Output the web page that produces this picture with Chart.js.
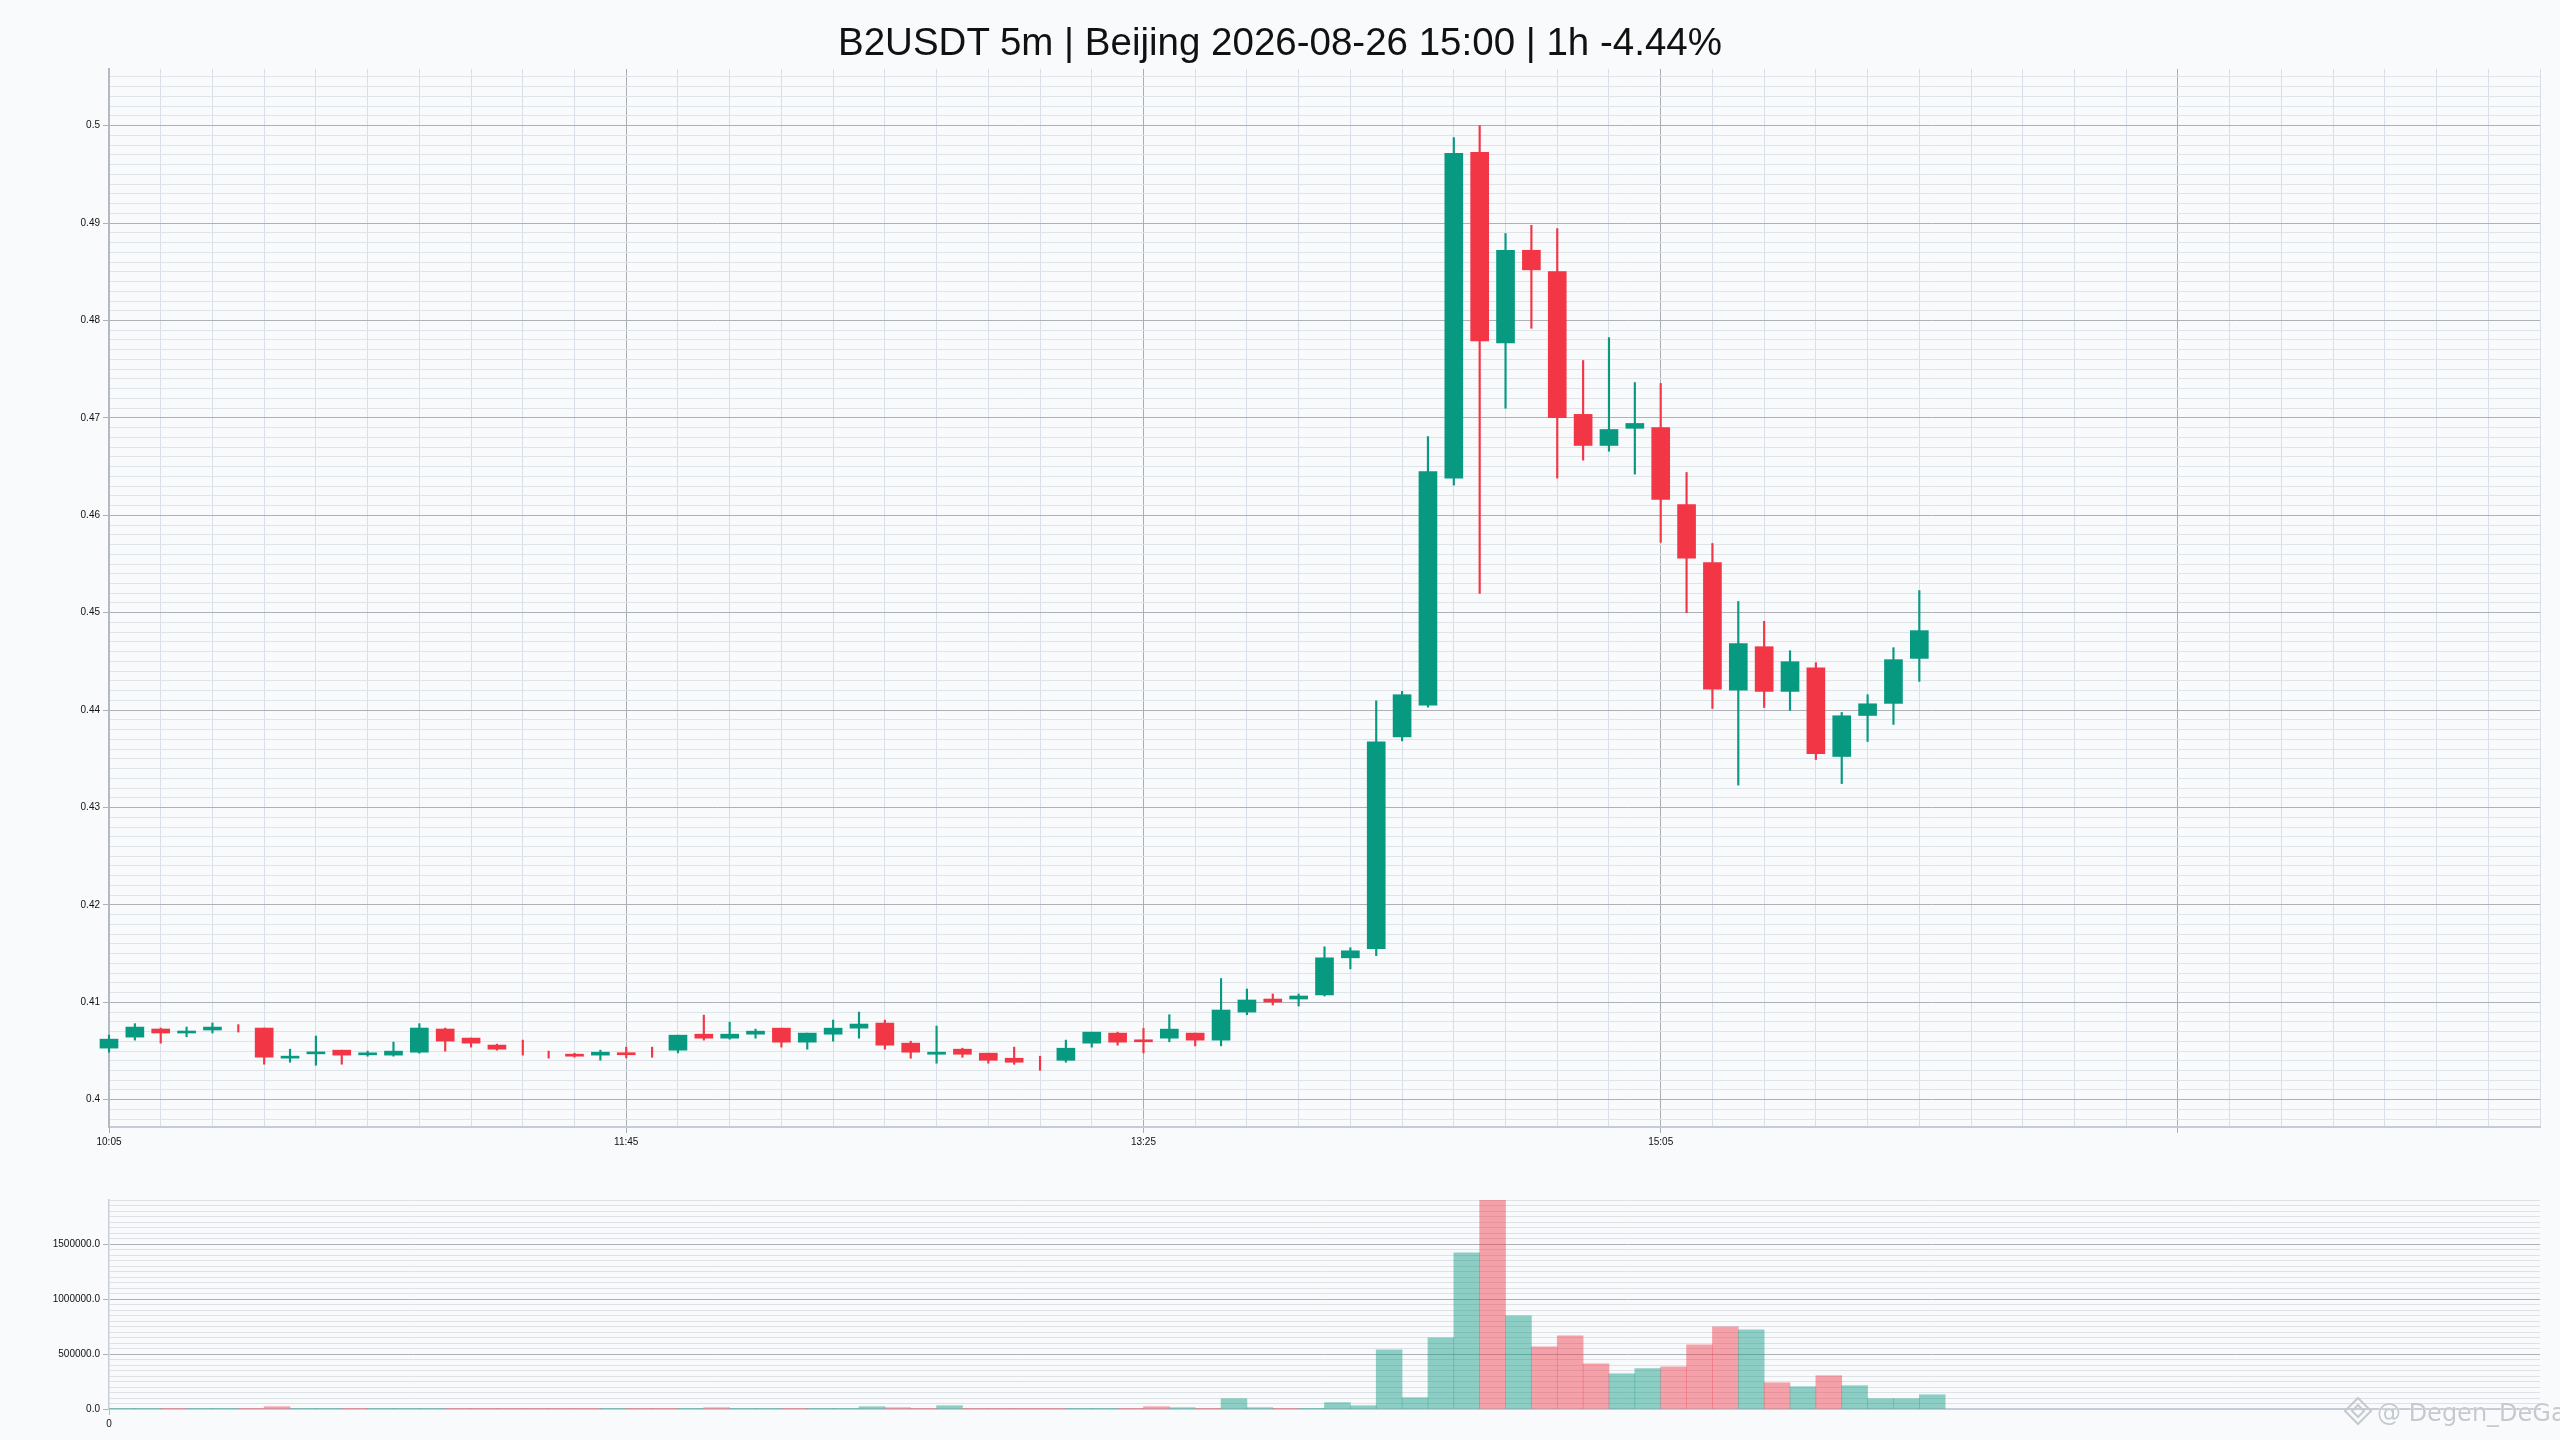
<!DOCTYPE html>
<html lang="en">
<head>
<meta charset="UTF-8">
<title>B2USDT 5m</title>
<script src="https://cdn.jsdelivr.net/npm/chart.js"></script>
<style>
html,body{margin:0;padding:0;background:#f8fafc;overflow:hidden}
body{width:2560px;height:1440px;position:relative;font-family:"Liberation Sans",Arial,sans-serif}
#price{position:absolute;left:0;top:0}
#volume{position:absolute;left:0;top:1170px}
#title{position:absolute;left:0;top:0;width:2560px;height:84px;line-height:84px;text-align:center;font-size:38.5px;color:#111}
#mark{position:absolute;left:2343px;top:1396px;font-family:"DejaVu Sans",sans-serif;font-size:24px;line-height:32px;color:#c6c9cd;white-space:nowrap;text-shadow:0 0 2px #fff}
#mark svg{vertical-align:-5px;margin-right:4px}
</style>
</head>
<body>
<canvas id="price" width="2560" height="1170"></canvas>
<canvas id="volume" width="2560" height="270"></canvas>
<div id="title">B2USDT 5m | Beijing 2026-08-26 15:00 | 1h -4.44%</div>
<div id="mark"><svg width="30" height="30" viewBox="0 0 30 30"><g fill="none" stroke="#c6c9cd" stroke-width="2"><path d="M15 2 L28 15 L15 28 L2 15 Z"/><path d="M15 9 L21 15 L15 21 L9 15 Z"/></g></svg>@ Degen_DeGa</div>
<script>
// 5m candles, index 0 = 10:05
const opens = [0.4053,0.40643,0.40726,0.40685,0.40716,0.4072,0.40736,0.40427,0.40471,0.40509,
  0.40461,0.40458,0.40488,0.40726,0.40633,0.40561,0.4052,0.4046,0.40468,0.40458,
  0.40467,0.4048,0.40509,0.40673,0.40632,0.40673,0.40735,0.40591,0.40673,0.40735,
  0.40787,0.40581,0.40467,0.40519,0.40478,0.40426,0.4038,0.40405,0.40581,0.40684,
  0.40612,0.40632,0.40684,0.40612,0.409,0.41034,0.41034,0.41076,0.41457,0.4155,
  0.43725,0.4405,0.46382,0.49727,0.47769,0.48721,0.48503,0.47036,0.46717,0.46893,
  0.46901,0.46109,0.45514,0.44205,0.44651,0.44192,0.44435,0.43524,0.43945,0.44069,
  0.44531];
const highs = [0.40663,0.40781,0.40736,0.40746,0.40788,0.40771,0.40736,0.40519,0.40654,0.40509,
  0.40499,0.40592,0.40781,0.40736,0.40633,0.40571,0.40612,0.40499,0.40478,0.40509,
  0.4054,0.4054,0.40663,0.40869,0.40797,0.40725,0.40735,0.40684,0.40818,0.409,
  0.40818,0.40601,0.40756,0.40529,0.40478,0.4054,0.40447,0.40612,0.40694,0.40694,
  0.40732,0.40873,0.40684,0.41244,0.41137,0.41086,0.41086,0.4157,0.4156,0.44096,
  0.44192,0.46809,0.49878,0.5,0.48893,0.48977,0.48943,0.47589,0.47824,0.47363,
  0.47354,0.4644,0.45711,0.45115,0.44912,0.4461,0.44487,0.43976,0.44158,0.44641,
  0.45227];
const lows = [0.40488,0.40612,0.40581,0.40647,0.40685,0.40695,0.40365,0.40385,0.40354,0.40365,
  0.40447,0.40447,0.40478,0.40499,0.4054,0.40509,0.40458,0.40427,0.40437,0.40406,
  0.4043,0.40436,0.40481,0.40612,0.40622,0.40632,0.4054,0.40519,0.40601,0.40632,
  0.40519,0.40426,0.40375,0.40436,0.40375,0.40364,0.40302,0.40385,0.4054,0.4056,
  0.40481,0.40595,0.40553,0.40553,0.40873,0.40973,0.40962,0.41065,0.41344,0.41478,
  0.43684,0.44029,0.4631,0.45199,0.47099,0.4792,0.46382,0.46566,0.46658,0.46423,
  0.45723,0.45,0.44017,0.4323,0.44027,0.43997,0.43493,0.43246,0.43678,0.43853,
  0.44295];
const closes = [0.40622,0.40746,0.40685,0.40695,0.40746,0.4072,0.40437,0.40437,0.40478,0.40458,
  0.40471,0.40499,0.40736,0.40602,0.40581,0.40519,0.4052,0.4046,0.40447,0.40488,
  0.40462,0.4048,0.40663,0.40632,0.40673,0.40704,0.40591,0.40684,0.40735,0.40777,
  0.4056,0.40488,0.40488,0.40467,0.40405,0.40385,0.4038,0.40529,0.40694,0.40591,
  0.40595,0.40725,0.40612,0.40921,0.41024,0.41003,0.41065,0.41457,0.41529,0.43674,
  0.44158,0.46449,0.49715,0.4779,0.48721,0.4852,0.47002,0.46717,0.46881,0.46943,
  0.46164,0.4556,0.44214,0.44683,0.44192,0.44497,0.43554,0.43942,0.44065,0.44518,
  0.44816];
const volumes = [3000,2000,2000,1500,2000,1000,21000,3000,3000,2500,
  1500,2000,3000,3000,2500,2000,1500,1000,1500,2000,
  1500,1000,3000,12000,3000,2000,3000,3000,3000,21000,
  12000,3000,30000,2500,3000,2500,2000,3000,3000,3000,
  21000,12000,3000,94000,12000,2500,2000,58000,30000,539000,
  103000,648000,1421000,1903000,848000,567000,667000,412000,321000,367000,
  385000,585000,748000,721000,239000,203000,303000,212000,94000,94000,
  130000];

// x axis: candle index, labelled ticks
const timeTicks = [0, 20, 40, 60];
const timeLabels = ['10:05', '11:45', '13:25', '15:05'];
const volStep = 50000, volMajor = 500000;

const UP = '#089981', DOWN = '#f23645';
const UP_A = 'rgba(8,153,129,0.45)', DOWN_A = 'rgba(242,54,69,0.45)';
const isUp = i => closes[i] > opens[i];

Chart.defaults.font.family = '"Liberation Sans", Arial, sans-serif';
Chart.defaults.font.size = 10;
Chart.defaults.color = '#111';

const bodies = [];
opens.forEach((o, i) => {
  if (o !== closes[i]) bodies.push({x: i, y: [o, closes[i]], up: isUp(i)});
});
const wicks = opens.map((o, i) => ({x: i, y: [lows[i], highs[i]], up: isUp(i)}));
const pad = (Math.max(...highs) - Math.min(...lows)) * 0.06;

const isMajorPrice = v => Math.abs(v * 100 - Math.round(v * 100)) < 1e-6;
const isMajorTime = v => v % 20 === 0;
const isMajorVol = v => v % volMajor === 0;

new Chart(document.getElementById('price'), {
  type: 'bar',
  data: {
    datasets: [
      {data: bodies, order: 0, grouped: false, barThickness: 18, minBarLength: 2, borderWidth: 0, clip: false,
        backgroundColor: ctx => ctx.raw && ctx.raw.up ? UP : DOWN},
      {data: wicks, order: 1, grouped: false, barThickness: 1.5, borderWidth: 0, clip: false,
        backgroundColor: ctx => ctx.raw && ctx.raw.up ? UP : DOWN}
    ]
  },
  options: {
    responsive: false,
    animation: false,
    events: [],
    layout: {padding: {top: 69, right: 20, left: 0, bottom: 0}},
    plugins: {legend: {display: false}, tooltip: {enabled: false}},
    scales: {
      x: {
        type: 'linear', min: 0, max: 94, offset: false,
        ticks: {stepSize: 2, autoSkip: false, maxRotation: 0, padding: 3,
          callback: v => { const k = timeTicks.indexOf(v); return k >= 0 ? timeLabels[k] : ''; }},
        grid: {offset: false, tickLength: 6, lineWidth: 1,
          color: ctx => ctx.tick && isMajorTime(ctx.tick.value) ? '#a9aeb4' : '#d8dfe8',
          tickColor: ctx => ctx.tick && isMajorTime(ctx.tick.value) ? '#a9aeb4' : 'rgba(0,0,0,0)'},
        border: {color: '#c5ccd5', width: 2},
        afterFit: s => { s.height = 43; }
      },
      y: {
        min: Math.min(...lows) - pad, max: Math.max(...highs) + pad,
        ticks: {stepSize: 0.001, includeBounds: false, autoSkip: false, padding: 3,
          callback: v => isMajorPrice(v) ? String(Number(v.toFixed(2))) : ''},
        grid: {tickLength: 6, lineWidth: 1,
          color: ctx => ctx.tick && isMajorPrice(ctx.tick.value) ? '#aeb2b8' : '#dfe4eb',
          tickColor: ctx => ctx.tick && isMajorPrice(ctx.tick.value) ? '#aeb2b8' : 'rgba(0,0,0,0)'},
        border: {color: '#b3b9c0', width: 2},
        afterFit: s => { s.width = 109; }
      }
    }
  }
});

new Chart(document.getElementById('volume'), {
  type: 'bar',
  data: {
    datasets: [{
      data: volumes.map((v, i) => ({x: i + 0.5, y: v, up: isUp(i)})),
      backgroundColor: ctx => ctx.raw && ctx.raw.up ? UP_A : DOWN_A,
      barPercentage: 1, categoryPercentage: 1, borderWidth: 0
    }]
  },
  options: {
    responsive: false,
    animation: false,
    events: [],
    layout: {padding: {top: 30, right: 20, left: 0, bottom: 0}},
    plugins: {legend: {display: false}, tooltip: {enabled: false}},
    scales: {
      x: {
        type: 'linear', min: 0, max: 94, offset: false,
        afterBuildTicks: s => { s.ticks = [{value: 0}]; },
        ticks: {autoSkip: false, maxRotation: 0, padding: 3},
        grid: {offset: false, drawOnChartArea: false, tickLength: 6, color: '#b8c0c9'},
        border: {color: '#c5ccd5', width: 2},
        afterFit: s => { s.height = 31; }
      },
      y: {
        min: 0, max: Math.max(...volumes),
        // ticks every 50k, labels every 500k (built by hand so they stay on round values)
        afterBuildTicks: s => {
          const t = [];
          for (let v = 0; v < s.max; v += volStep) t.push({value: v});
          s.ticks = t;
        },
        ticks: {autoSkip: false, padding: 3,
          callback: v => isMajorVol(v) ? v.toFixed(1) : ''},
        grid: {tickLength: 6, lineWidth: 1,
          color: ctx => ctx.tick && isMajorVol(ctx.tick.value) ? '#aeb2b8' : '#dee1e5',
          tickColor: ctx => ctx.tick && isMajorVol(ctx.tick.value) ? '#aeb2b8' : 'rgba(0,0,0,0)'},
        border: {color: '#c9cfd6', width: 1.5},
        afterFit: s => { s.width = 109; }
      }
    }
  }
});
</script>
</body>
</html>
